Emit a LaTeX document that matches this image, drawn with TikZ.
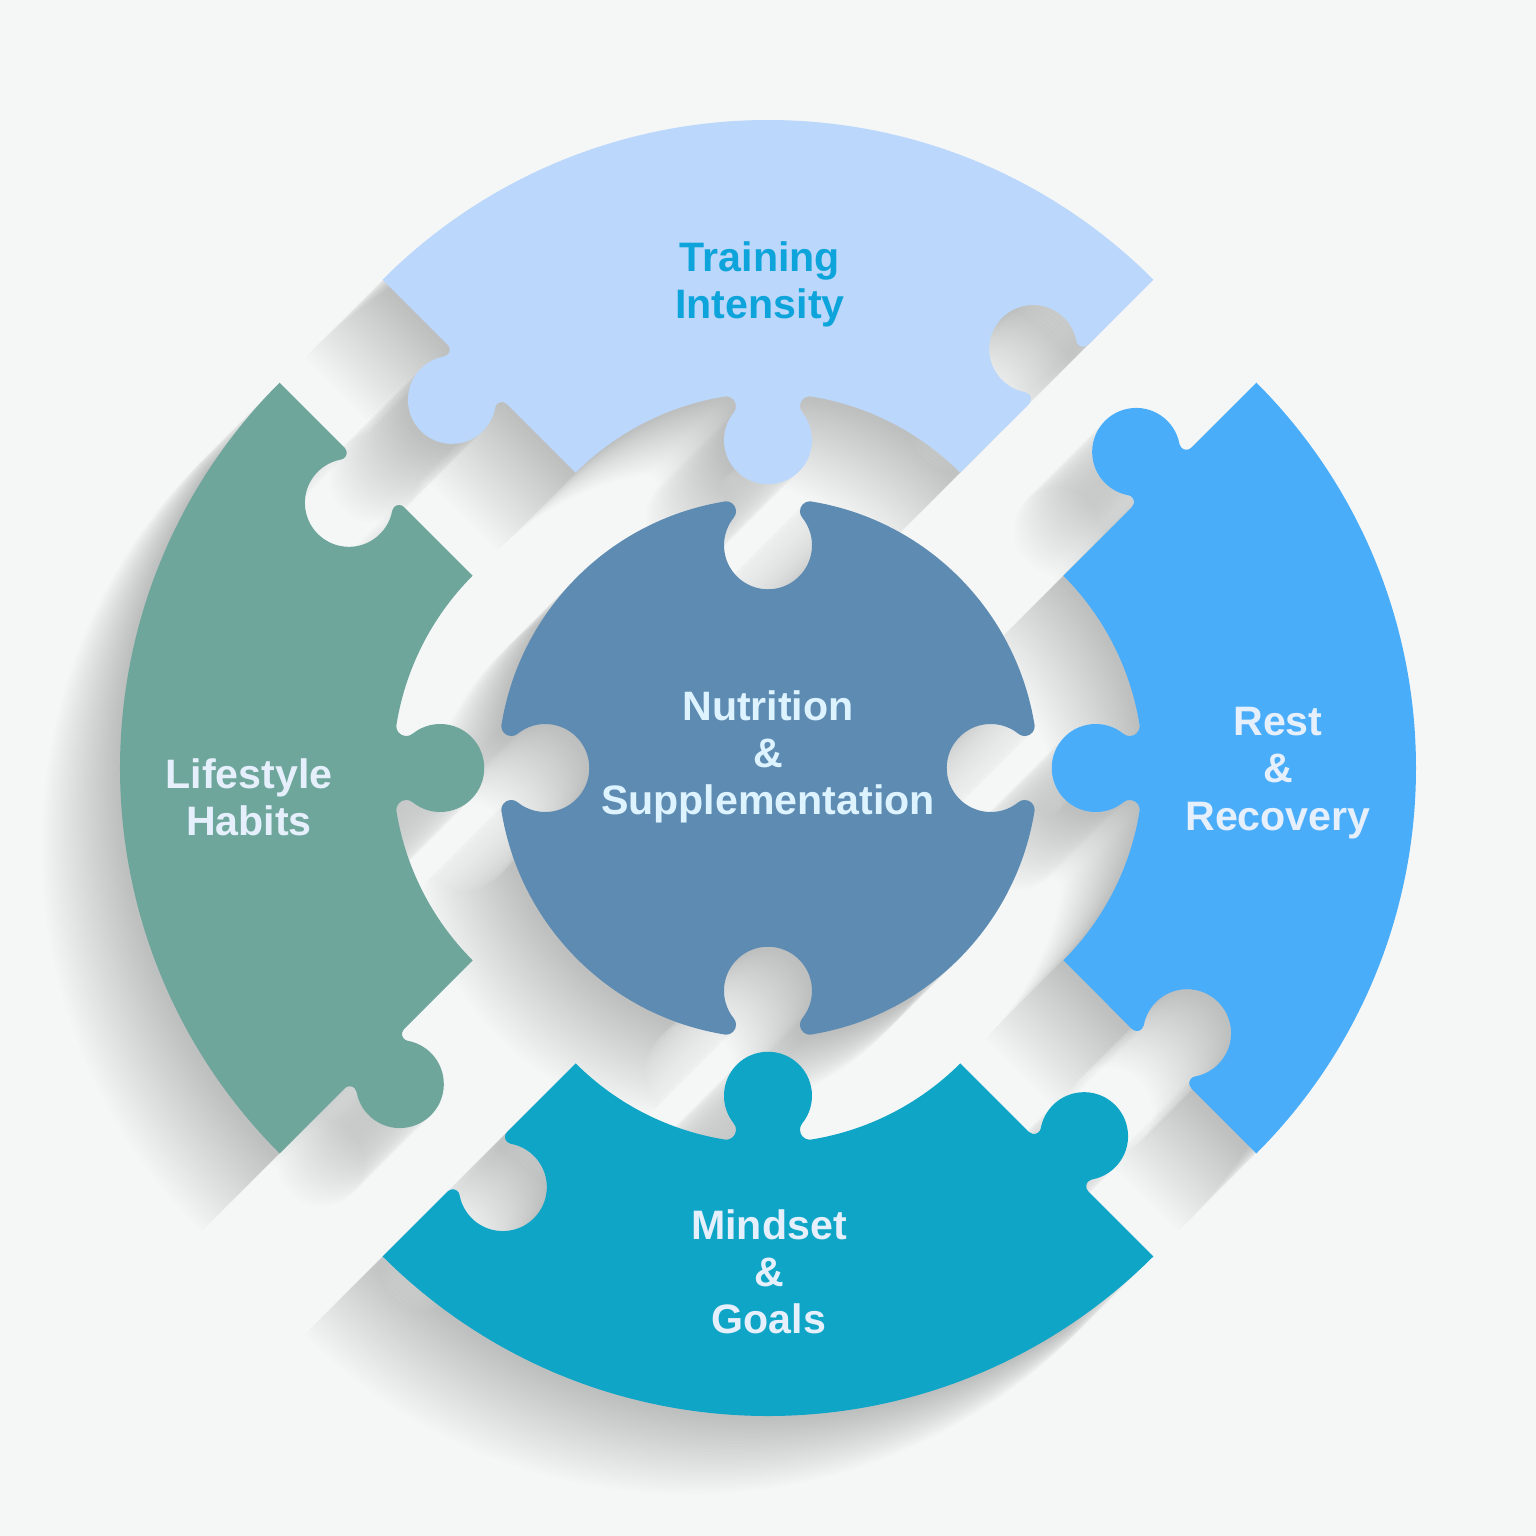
\documentclass[tikz,border=0pt]{standalone}
\usepackage{fontspec}
\setmainfont{Liberation Sans}
\usetikzlibrary{calc}
\definecolor{bgc}{HTML}{F5F7F7}
\definecolor{topc}{HTML}{BBD7FB}
\definecolor{leftc}{HTML}{6FA69C}
\definecolor{rightc}{HTML}{4AADFA}
\definecolor{botc}{HTML}{0FA5C6}
\definecolor{midc}{HTML}{5E8BB1}
\definecolor{toptxt}{HTML}{0CA4DA}
\definecolor{lighttxt}{HTML}{E6EFFC}
\definecolor{midtxt}{HTML}{DDF3FF}
\definecolor{shadc}{HTML}{404040}
% geometry (pixels)
\def\dd{103}
\def\Rone{272}
\def\Rtwo{545}
\def\Rzero{270}
\def\rK{44}
\def\mR{411}
\def\cR{36}
\def\fR{7}
\def\cI{44}
\def\fI{10}
\pgfmathsetmacro\xfR{sqrt((\rK+\fR)^2-(\cR-\fR)^2)}
\pgfmathsetmacro\aR{atan((\cR-\fR)/\xfR)}
\pgfmathsetmacro\xfI{sqrt((\rK+\fI)^2-(\cI-\fI)^2)}
\pgfmathsetmacro\aI{atan((\cI-\fI)/\xfI)}
\pgfmathsetmacro\OIr{100*sqrt((\Rone/100)^2-(\xfI/100)^2)}
\pgfmathsetmacro\OCr{100*sqrt((\Rzero/100)^2-(\xfI/100)^2)}
\pgfmathsetmacro\dI{asin(\xfI/\Rone)}
\pgfmathsetmacro\dC{asin(\xfI/\Rzero)}
% knob bulging to the right of travel (tab)
\newcommand\tabk[5]{-- ($#1+(#2:-#3)$)
  arc[start angle={#2+90}, end angle={#2-#5}, radius=#4]
  arc[start angle={#2+180-#5}, end angle={#2+360+#5}, radius=\rK]
  arc[start angle={#2+180+#5}, end angle={#2+90}, radius=#4]}
% knob bulging to the left of travel (notch)
\newcommand\notchk[5]{-- ($#1+(#2:-#3)$)
  arc[start angle={#2+270}, end angle={#2+360+#5}, radius=#4]
  arc[start angle={#2+180+#5}, end angle={#2-#5}, radius=\rK]
  arc[start angle={#2+180-#5}, end angle={#2+270}, radius=#4]}
\def\ringpath{($(0,\dd)+(45:\Rtwo)$)
  arc[start angle=45, end angle=135, radius=\Rtwo]
  \tabk{(0,\dd)+(135:\mR)}{-45}{\xfR}{\fR}{\aR}
  -- ($(0,\dd)+(135:\Rone)$)
  arc[start angle=135, end angle={90+\dI}, radius=\Rone]
  \tabk{(0,\dd)+(90:\OIr)}{0}{\xfI}{\fI}{\aI}
  arc[start angle={90-\dI}, end angle=45, radius=\Rone]
  \notchk{(0,\dd)+(45:\mR)}{45}{\xfR}{\fR}{\aR}
  -- cycle}
\def\diskpath{({270+\dC}:\Rzero)
  arc[start angle={270+\dC}, end angle={360-\dC}, radius=\Rzero]
  \notchk{(0:\OCr)}{90}{\xfI}{\fI}{\aI}
  arc[start angle={\dC}, end angle={90-\dC}, radius=\Rzero]
  \notchk{(90:\OCr)}{180}{\xfI}{\fI}{\aI}
  arc[start angle={90+\dC}, end angle={180-\dC}, radius=\Rzero]
  \notchk{(180:\OCr)}{270}{\xfI}{\fI}{\aI}
  arc[start angle={180+\dC}, end angle={270-\dC}, radius=\Rzero]
  \notchk{(270:\OCr)}{360}{\xfI}{\fI}{\aI}
  -- cycle}
\begin{document}
\begin{tikzpicture}[x=0.01cm,y=0.01cm,
  lab/.style={align=center, font=\bfseries\fontsize{11.7}{13.4}\selectfont, inner sep=0pt}]
\useasboundingbox (-768,-768) rectangle (768,768);
\fill[bgc] (-768,-768) rectangle (768,768);
% long shadows
\foreach \k in {1,...,28}{
  \foreach \r in {0,90,180,270}{
    \fill[shadc, opacity=0.0075, shift={(-2.8*\k,-2.8*\k)}, rotate=\r] \ringpath;
  }
  \fill[shadc, opacity=0.0075, shift={(-2.8*\k,-2.8*\k)}] \diskpath;
}
% pieces
\fill[topc] \ringpath;
\fill[leftc, rotate=90] \ringpath;
\fill[botc, rotate=180] \ringpath;
\fill[rightc, rotate=-90] \ringpath;
\fill[midc] \diskpath;
% labels
\node[lab, text=toptxt] (ti) at (-8,484) {Training\\Intensity};
\node[lab, text=midtxt] (ns) at (0,11) {Nutrition\\\&\\Supplementation};
\node[lab, text=lighttxt] (lh) at (-519,-29) {Lifestyle\\Habits};
\node[lab, text=lighttxt] (rr) at (510,-5) {Rest\\\&\\Recovery};
\node[lab, text=lighttxt] (mg) at (1,-504) {Mindset\\\&\\Goals};
\end{tikzpicture}
\end{document}
